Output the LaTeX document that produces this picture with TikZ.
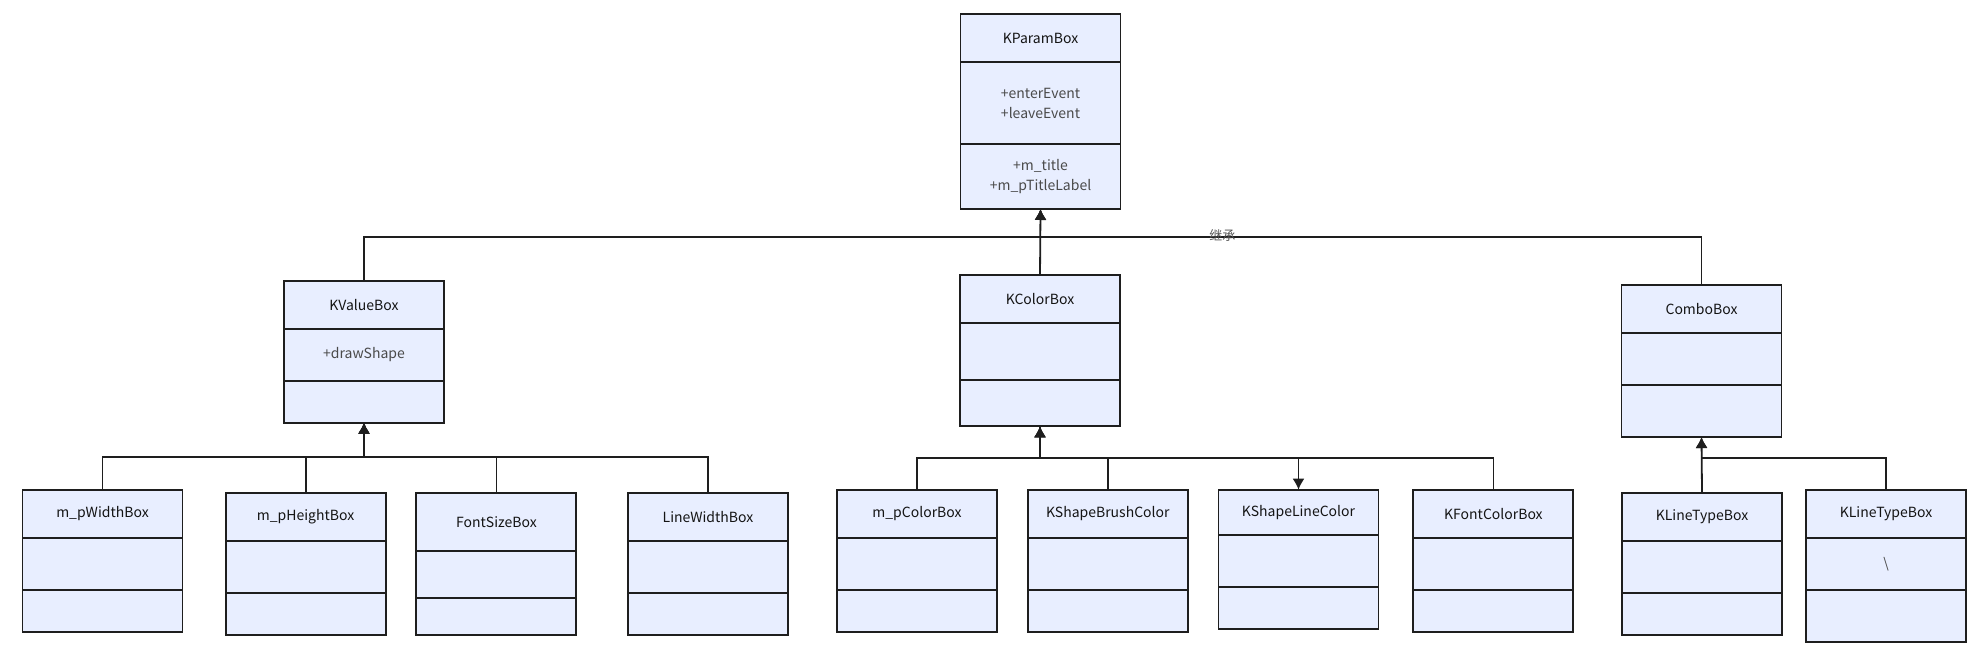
\documentclass[tikz,border=0pt]{standalone}
\usepackage{fontspec}
\setmainfont{Noto Sans CJK SC}
\usepackage{tikz}
\usetikzlibrary{positioning,arrows.meta}
\definecolor{clsfill}{HTML}{E8EEFF}
\definecolor{clsline}{HTML}{1E1E1E}
\definecolor{ttltext}{HTML}{141414}
\definecolor{mbrtext}{HTML}{4A4A4A}
\definecolor{lbltext}{HTML}{555555}

\begin{document}
\begin{tikzpicture}[
        x = 1pt, y = -1pt,
        cls/.style  = {rectangle, draw=clsline, fill=clsfill, line width=1.9pt,
                       minimum width=160pt, inner sep=2pt, outer sep=0pt,
                       align=center, font=\fontsize{14}{20}\selectfont},
        ttl/.style  = {cls, text=ttltext, anchor=north, minimum height=#1},
        ttl/.default = 48pt,
        mbr/.style  = {cls, text=mbrtext, minimum height=#1},
        mbr/.default = 52pt,
        inh/.style  = {-{Latex[length=11pt,width=12pt]}, draw=clsline, line width=1.8pt},
        inhr/.style = {{Latex[length=11pt,width=12pt]}-, draw=clsline, line width=1.8pt},
        lbl/.style  = {text=lbltext, font=\fontsize{13}{13}\selectfont, inner sep=0pt},
        node distance = 0pt
    ]
        \fill[white] (0,0) rectangle (1978,655);
        \useasboundingbox (0,0) rectangle (1978,655);

        % base class
        \node[ttl]                          (kparam)   at (1040.5,14) {KParamBox};
        \node[mbr=82pt, below=of kparam]    (kparam-m) {+enterEvent\\+leaveEvent};
        \node[mbr=65pt, below=of kparam-m]  (kparam-a) {+m\_title\\+m\_pTitleLabel};

        % second row
        \node[ttl]                          (kvalue)   at (364,280.7) {KValueBox};
        \node[mbr, below=of kvalue]         (kvalue-m) {+drawShape};
        \node[mbr=42pt, below=of kvalue-m]  (kvalue-a) {};

        \node[ttl]                          (kcolor)   at (1040,275.3) {KColorBox};
        \node[mbr=57pt, below=of kcolor]    (kcolor-m) {};
        \node[mbr=46pt, below=of kcolor-m]  (kcolor-a) {};

        \node[ttl]                          (combo)    at (1701.5,285) {ComboBox};
        \node[mbr, below=of combo]          (combo-m)  {};
        \node[mbr, below=of combo-m]        (combo-a)  {};

        % third row
        \node[ttl]                          (pwidth)   at (102.5,489.7) {m\_pWidthBox};
        \node[mbr, below=of pwidth]         (pwidth-m) {};
        \node[mbr=42pt, below=of pwidth-m]  (pwidth-a) {};

        \node[ttl]                          (pheight)   at (305.6,492.7) {m\_pHeightBox};
        \node[mbr, below=of pheight]        (pheight-m) {};
        \node[mbr=42pt, below=of pheight-m] (pheight-a) {};

        \node[ttl=58pt]                     (fontsize)   at (496.4,492.7) {FontSizeBox};
        \node[mbr=47pt, below=of fontsize]  (fontsize-m) {};
        \node[mbr=37pt, below=of fontsize-m] (fontsize-a) {};

        \node[ttl]                          (linewidth)   at (708,492.7) {LineWidthBox};
        \node[mbr, below=of linewidth]      (linewidth-m) {};
        \node[mbr=42pt, below=of linewidth-m] (linewidth-a) {};

        \node[ttl]                          (pcolor)   at (917,489.7) {m\_pColorBox};
        \node[mbr, below=of pcolor]         (pcolor-m) {};
        \node[mbr=42pt, below=of pcolor-m]  (pcolor-a) {};

        \node[ttl]                          (brush)   at (1107.8,489.7) {KShapeBrushColor};
        \node[mbr, below=of brush]          (brush-m) {};
        \node[mbr=42pt, below=of brush-m]   (brush-a) {};

        \node[ttl=45pt]                     (linecolor)   at (1298.5,489.7) {KShapeLineColor};
        \node[mbr, below=of linecolor]      (linecolor-m) {};
        \node[mbr=42pt, below=of linecolor-m] (linecolor-a) {};

        \node[ttl]                          (fontcolor)   at (1493.4,489.7) {KFontColorBox};
        \node[mbr, below=of fontcolor]      (fontcolor-m) {};
        \node[mbr=42pt, below=of fontcolor-m] (fontcolor-a) {};

        \node[ttl]                          (linetype)   at (1702,492.7) {KLineTypeBox};
        \node[mbr, below=of linetype]       (linetype-m) {};
        \node[mbr=42pt, below=of linetype-m] (linetype-a) {};

        \node[ttl]                          (linetype2)   at (1886,490) {KLineTypeBox};
        \node[mbr, below=of linetype2]      (linetype2-m) {\textbackslash};
        \node[mbr, below=of linetype2-m]    (linetype2-a) {};

        % junctions
        \coordinate[below=28pt of kparam-a.south]   (kparam-j);
        \coordinate[below=34.3pt of kvalue-a.south] (kvalue-j);
        \coordinate[below=31.7pt of kcolor-a.south] (kcolor-j);
        \coordinate[below=21pt of combo-a.south]    (combo-j);

        % inheritance
        \draw[inh] (kvalue.north) |- (kparam-j) -- (kparam-a.south);
        \draw[inh] (kcolor.north) -- (kparam-a.south);
        \draw[inh] (combo.north) |- node[lbl, pos=0.8625, yshift=2pt]{继承} (kparam-j) -- (kparam-a.south);

        \draw[inh] (pwidth.north)    |- (kvalue-j) -- (kvalue-a.south);
        \draw[inh] (pheight.north)   |- (kvalue-j) -- (kvalue-a.south);
        \draw[inh] (fontsize.north)  |- (kvalue-j) -- (kvalue-a.south);
        \draw[inh] (linewidth.north) |- (kvalue-j) -- (kvalue-a.south);

        \draw[inh]  (pcolor.north)    |- (kcolor-j) -- (kcolor-a.south);
        \draw[inh]  (brush.north)     |- (kcolor-j) -- (kcolor-a.south);
        \draw[inhr] (linecolor.north) |- (kcolor-j) -- (kcolor-a.south);
        \draw[inh]  (fontcolor.north) |- (kcolor-j) -- (kcolor-a.south);

        \draw[inh] (linetype.north)  -- (combo-a.south);
        \draw[inh] (linetype2.north) |- (combo-j) -- (combo-a.south);
    \end{tikzpicture}
\end{document}
